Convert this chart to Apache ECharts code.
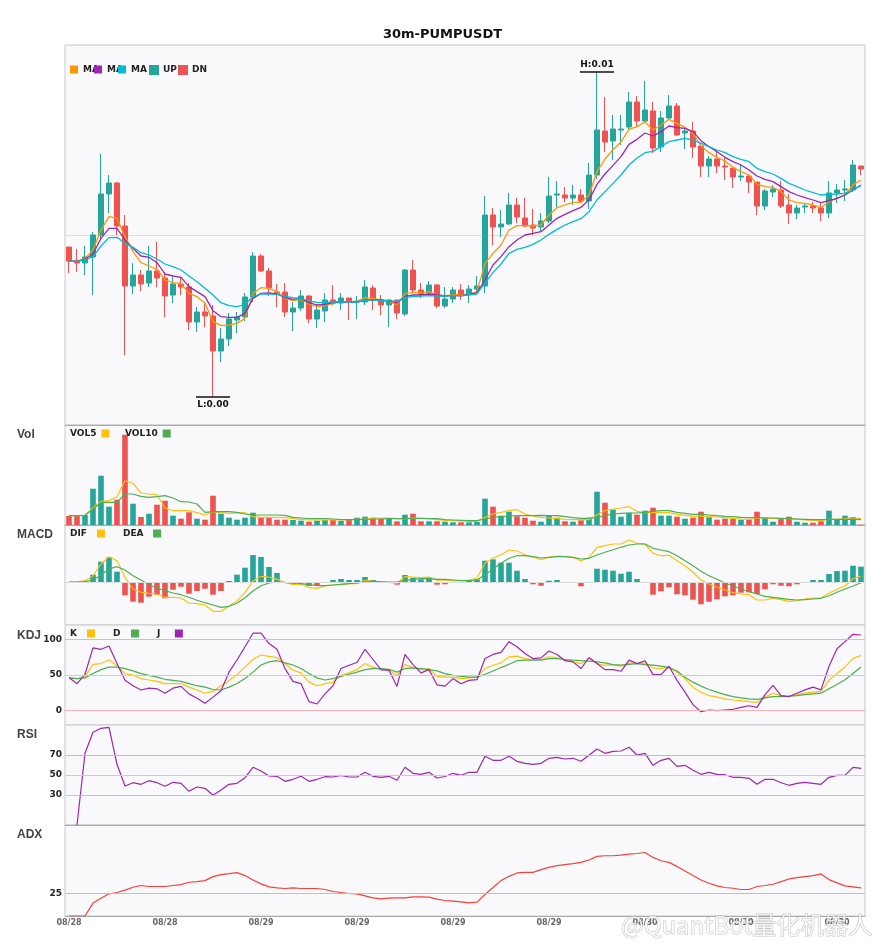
<!DOCTYPE html>
<html>
<head>
<meta charset="utf-8">
<title>30m-PUMPUSDT</title>
<script src="https://cdn.jsdelivr.net/npm/echarts@6/dist/echarts.min.js"></script>
<style>
html,body{margin:0;padding:0;background:#fff}
#main{width:885px;height:950px}
</style>
</head>
<body>
<div id="main"></div>
<script>
// 30分钟K线 PUMPUSDT，起始 08/28 14:00
var startMinutes = 14 * 60;
var times = [];
for (var i = 0; i < 100; i++) {
    var m = startMinutes + 30 * i;
    var day = 28 + Math.floor(m / 1440);
    var mm = m % 1440;
    var hh = Math.floor(mm / 60), mi = mm % 60;
    times.push('08/' + day + ' ' + (hh < 10 ? '0' : '') + hh + ':' + (mi < 10 ? '0' : '') + mi);
}

// 价格 OHLC
var open = [
    .005094,.005052,.005046,.005064,.005130,.005253,.005286,.005157,.004977,.005010,
    .004986,.005022,.005001,.004950,.004983,.004974,.004869,.004899,.004887,.004782,
    .004818,.004875,.004884,.004944,.005067,.005022,.004959,.004959,.004899,.004911,
    .004947,.004878,.004902,.004935,.004926,.004941,.004929,.004929,.004971,.004935,
    .004920,.004935,.004893,.005025,.004965,.004956,.004980,.004917,.004938,.004965,
    .004953,.004968,.004977,.005190,.005154,.005163,.005220,.005181,.005160,.005154,
    .005172,.005250,.005250,.005241,.005250,.005232,.005310,.005442,.005412,.005445,
    .005454,.005529,.005472,.005502,.005394,.005481,.005517,.005436,.005442,.005397,
    .005337,.005358,.005337,.005331,.005304,.005307,.005289,.005217,.005259,.005265,
    .005220,.005196,.005214,.005217,.005211,.005196,.005256,.005265,.005265,.005337
];
var high = [
    .005094,.005088,.005097,.005139,.005373,.005310,.005289,.005190,.005046,.005025,
    .005097,.005109,.005019,.005004,.005004,.004986,.004914,.004926,.004920,.004851,
    .004896,.004899,.004956,.005079,.005073,.005031,.004983,.004986,.004929,.004965,
    .004950,.004923,.004956,.004980,.004956,.004941,.004947,.004995,.004980,.004950,
    .004938,.004935,.005028,.005055,.004986,.004992,.004983,.004974,.004974,.004983,
    .004980,.005007,.005247,.005211,.005205,.005256,.005241,.005241,.005208,.005196,
    .005304,.005292,.005274,.005280,.005268,.005346,.005619,.005544,.005490,.005490,
    .005559,.005547,.005592,.005529,.005502,.005550,.005526,.005451,.005469,.005400,
    .005367,.005379,.005361,.005331,.005343,.005307,.005289,.005268,.005280,.005292,
    .005253,.005220,.005226,.005229,.005229,.005292,.005283,.005295,.005355,.005337
];
var low = [
    .005016,.005019,.005010,.004950,.005121,.005196,.005130,.004770,.004953,.004962,
    .004974,.004974,.004884,.004926,.004950,.004845,.004839,.004854,.004644,.004749,
    .004797,.004836,.004872,.004929,.005019,.004947,.004914,.004884,.004842,.004902,
    .004866,.004851,.004869,.004920,.004905,.004875,.004878,.004920,.004905,.004890,
    .004854,.004878,.004887,.004959,.004941,.004950,.004911,.004911,.004926,.004935,
    .004926,.004956,.004956,.005100,.005124,.005160,.005166,.005154,.005130,.005142,
    .005166,.005214,.005229,.005220,.005226,.005208,.005298,.005379,.005355,.005400,
    .005445,.005454,.005469,.005376,.005379,.005475,.005427,.005388,.005361,.005304,
    .005304,.005316,.005295,.005271,.005292,.005256,.005190,.005205,.005244,.005211,
    .005163,.005178,.005196,.005196,.005172,.005181,.005226,.005232,.005259,.005310
];
var close = [
    .005052,.005046,.005064,.005130,.005253,.005286,.005157,.004977,.005010,.004983,
    .005022,.005001,.004947,.004983,.004974,.004869,.004899,.004887,.004782,.004818,
    .004878,.004884,.004944,.005067,.005022,.004971,.004953,.004899,.004911,.004947,
    .004878,.004905,.004935,.004926,.004941,.004932,.004932,.004974,.004935,.004920,
    .004935,.004896,.005025,.004965,.004950,.004980,.004917,.004938,.004965,.004947,
    .004968,.004977,.005190,.005154,.005163,.005220,.005184,.005157,.005151,.005172,
    .005247,.005253,.005241,.005250,.005232,.005310,.005445,.005409,.005448,.005448,
    .005529,.005472,.005505,.005391,.005481,.005517,.005430,.005442,.005394,.005337,
    .005358,.005337,.005334,.005304,.005307,.005289,.005217,.005262,.005268,.005217,
    .005196,.005211,.005217,.005211,.005196,.005256,.005265,.005268,.005340,.005328
];

// 均线
var ma5 = [
    .005052,.005051,.005060,.005085,.005145,.005185,.005180,.005125,.005080,.005047,
    .005037,.005027,.004995,.004987,.004985,.004955,.004945,.004925,.004870,.004858,
    .004860,.004865,.004880,.004955,.004972,.004970,.004960,.004940,.004933,.004937,
    .004923,.004915,.004918,.004925,.004930,.004929,.004931,.004942,.004940,.004935,
    .004930,.004920,.004955,.004957,.004957,.004960,.004950,.004947,.004951,.004950,
    .004953,.004960,.005045,.005075,.005100,.005145,.005158,.005158,.005157,.005160,
    .005190,.005212,.005220,.005228,.005228,.005250,.005320,.005358,.005386,.005409,
    .005447,.005455,.005469,.005445,.005460,.005477,.005465,.005453,.005435,.005397,
    .005377,.005363,.005352,.005333,.005320,.005310,.005282,.005275,.005273,.005260,
    .005235,.005227,.005225,.005220,.005212,.005230,.005240,.005250,.005280,.005295
];
var ma10 = [
    .005052,.005051,.005058,.005073,.005120,.005150,.005150,.005115,.005090,.005067,
    .005063,.005047,.005013,.005007,.005003,.004975,.004960,.004945,.004903,.004885,
    .004883,.004883,.004895,.004940,.004955,.004956,.004953,.004943,.004937,.004940,
    .004927,.004920,.004922,.004927,.004929,.004929,.004929,.004935,.004935,.004935,
    .004932,.004927,.004945,.004950,.004950,.004953,.004950,.004947,.004949,.004948,
    .004952,.004957,.004995,.005040,.005065,.005095,.005115,.005130,.005135,.005140,
    .005160,.005180,.005192,.005203,.005213,.005235,.005282,.005313,.005339,.005365,
    .005402,.005417,.005436,.005427,.005440,.005457,.005452,.005450,.005440,.005413,
    .005395,.005380,.005363,.005350,.005340,.005325,.005307,.005297,.005290,.005275,
    .005260,.005250,.005242,.005235,.005227,.005233,.005240,.005250,.005265,.005280
];
var ma20 = [
    .005052,.005051,.005055,.005065,.005097,.005122,.005123,.005105,.005093,.005077,
    .005070,.005058,.005043,.005035,.005025,.005007,.004990,.004970,.004950,.004927,
    .004918,.004915,.004922,.004945,.004953,.004953,.004952,.004946,.004942,.004940,
    .004932,.004928,.004927,.004929,.004929,.004929,.004929,.004935,.004935,.004933,
    .004933,.004930,.004943,.004945,.004947,.004948,.004947,.004947,.004948,.004948,
    .004950,.004953,.004987,.005017,.005043,.005075,.005087,.005093,.005102,.005115,
    .005132,.005147,.005160,.005170,.005179,.005200,.005235,.005260,.005285,.005310,
    .005340,.005361,.005377,.005381,.005396,.005410,.005415,.005420,.005415,.005405,
    .005395,.005385,.005377,.005365,.005357,.005350,.005330,.005320,.005313,.005300,
    .005285,.005275,.005265,.005257,.005250,.005252,.005253,.005255,.005265,.005278
];

// 成交量
var vol = [
    9,9,10,36.3,49.3,18.3,25.3,90.3,21.3,8,
    11.3,20.3,24.3,9.3,6.3,12.7,6.3,5.3,29.3,11.3,
    7.3,5.3,7.3,12.3,7,7.7,5.3,5.3,5,4.3,
    3.3,4.3,5,5,4,6,7.3,8.3,7.3,6.3,
    7,3.7,10.3,11.3,3.7,3.7,3.7,3.3,2.7,2.7,
    2.7,3,26.3,18.3,9.3,13.3,8.7,7.3,4.3,3.3,
    9.7,7.3,3.7,3.3,4.7,7.3,33.3,22.3,15.3,8.3,
    12.3,10.3,14.3,17.3,9.3,9.3,8.3,6.3,7.3,13.3,
    7.7,5.3,6.3,6.3,5.3,5.3,13.3,7.3,3.3,6.7,
    8.3,3.3,2.3,2.3,3.7,14.3,5.3,9.3,8,0.3
];
var vol5 = [
    9.3,9.3,9.7,17,23.7,24.3,28.3,44.3,41.7,32,
    31,30.3,17,14.3,14.3,14.3,12.3,10,13.3,12.3,
    11.7,12,12.3,8.3,7.7,7.7,7.7,7.3,6.3,5.7,
    5,5,5,5,5,5.3,5.7,6,6.7,7,
    7,6.3,6.3,7,6.7,6.3,5.3,4.7,4.3,4,
    3.7,3.7,7.7,11,12.7,14.3,15.3,11,9,7.7,
    7,6.3,5.7,5.3,5.3,5.3,10.3,14.3,16,17,
    18.3,13.7,12.3,12.3,12.3,12.3,10.7,9.7,8.7,9,
    8.7,8,7.3,6.7,6,5.7,7,7,6.7,6.3,
    6.3,5.7,5,4.7,4.7,5.7,5.7,6.3,7,6.7
];
var vol10 = [
    9.3,9.3,9.7,16,22.7,22.7,22.7,31,31,28.7,
    27.7,28.3,29.3,27,23.3,23,21,12.7,13.3,13.3,
    13.3,12.7,11,10,10,10,10,9.7,7.7,7,
    6.3,6.3,6.3,6,5.3,5.3,5.3,5.7,6,6,
    6.3,6.3,6.3,6.7,6.7,6.3,6.3,5.3,5,4.7,
    4.3,4.3,6,7.7,8.3,9,9.3,9.3,9.3,9.7,
    9.3,9.3,8.3,7.3,6.7,6.7,7.7,9.3,11,11.7,
    12,12,12.7,13.7,14.3,14.3,12.7,11.7,10.7,10.7,
    10,9.3,8.7,8.3,7.7,7.3,7.3,7,7,6.7,
    6.3,6,5.7,5.3,5.3,5.7,5.7,5.7,5.7,5.3
];

// MACD
var macdHist = [
    0,0,0.3,7.3,20.3,24.7,10.3,-13.3,-19.7,-20.7,
    -14.7,-12.7,-16.3,-7.7,-4.7,-11.7,-9,-6.7,-12.7,-9,
    1,7.3,14.3,27,25,15,9,0,-2.3,0,
    -4,-4,0,2,3,2,2,5,2,0,
    0,-2.7,7,4.3,2.7,4.3,-2.7,-2.3,0,-1,
    1.3,2.7,21.3,22.7,19.3,19.3,11.3,3,-2.3,-3.7,
    1.3,2,0,-0.7,-4.3,0,13.3,12.3,11.3,8.3,
    10.3,3,0,-12.7,-9.3,-5.3,-12.3,-13.3,-17.7,-22.3,
    -19.7,-17.3,-14.3,-13.3,-10.7,-10.3,-12,-7.3,-2.3,-3.7,
    -4.3,-2.3,0,2,2,8,11,11.3,16.3,15.3
];
var dif = [
    0,0,1.3,6,18,25.3,21.3,4.7,-7,-10.3,
    -11.3,-12,-15.3,-15.3,-16,-21,-21.7,-23,-29.3,-29.3,
    -24,-19,-10.7,1,5.7,5,2.7,-0.7,-2.3,-2.3,
    -5.7,-6.3,-4,-3,-2.3,-1.7,-1.7,1.7,0.7,0,
    -0.3,-1.3,5.3,5,4.3,5,1.7,2,1.3,1.3,
    2,4,18.7,24,27.3,32,31,27.3,24.7,22.3,
    24.7,26,25.3,24.7,21,24.7,34.7,36.3,38,38,
    42,38.7,38,28.7,26.3,26.7,21.3,16.3,9.7,2,
    -2,-5.3,-8,-10.7,-12,-12.7,-18,-18,-16.3,-17.7,
    -19.3,-18.7,-17,-16,-16,-11.3,-7.3,-4,3.3,6
];
var dea = [
    0,0,0.3,2,7,13,15.3,12,6.3,2,
    -2.7,-6,-8.7,-11,-12.7,-15.3,-18.3,-20.7,-23,-25.3,
    -24.3,-21.3,-15.7,-9,-3.7,-1,0,-0.3,-1,-1.7,
    -2.7,-3.7,-3.7,-3,-2.3,-1.7,-1,0.3,0.7,0.3,
    0,0,1.7,2.7,3.3,3.7,2.7,2.7,2,1.3,
    1.3,2,7.3,13,18.7,23.7,26.3,26.3,25.3,24,
    24.7,25.3,25.3,24.7,23,23.7,27,29.7,32.3,34.7,
    37,38,38,33.7,32,30.3,26.3,21.3,16.3,10.7,
    6.3,2.7,-1,-4,-7,-9.7,-12,-14.3,-15.3,-16.3,
    -17.3,-18,-17.7,-17,-16.3,-13.7,-10.3,-7,-4,-0.7
];

// KDJ
var kLine = [
    46,45,47,65,66,71,63,52,50,45,
    43,41,38,38,38,33,29,24.5,27,35,
    42,50.5,61,72,78,76,74.5,66,56.6,53,
    40,35,38,40,49.5,53,57.5,66,61,57.5,
    56.6,49.5,64.6,60,57.5,59,48,47,47,45,
    46,47,59,63.7,67,75.5,76.4,73,71.7,71.7,
    75.5,74.5,70.8,68.4,66,73,66,63.7,63.7,62.3,
    67,66,67,60,59,61.3,54,45,33,26,
    21,19,16.5,15,14,12.7,11.8,19,24.5,20.8,
    19.8,22.6,24.5,26,27,42.5,52,61.3,73,77.4
];
var dLine = [
    46,45,46,52,57.5,61,61,59,55.7,52,
    49.5,47,44,42.5,41,38,35,33,29.7,29,
    33,38,45,54,64,68.4,70,67,64,59,
    52,46,43,45,48,51,54,57.5,59,59,
    58,54,59,60,59,57.5,55.7,52,49.5,48,
    47,47,51,55.7,60.4,65,70,70.8,70.8,70.8,
    73,73,71.7,70.8,70,69.3,68.4,67,64.6,63.7,
    65,66,64.6,63.7,62.3,60.4,55.7,47,40,34.4,
    29.7,26,22.6,19.8,18,16.5,16,18,19.8,19.8,
    20.3,21.2,22.6,23.6,24.5,30.7,36.8,43.4,52,61.3
];
var jLine = [
    46,38,51,88,86,90.6,66,42.5,35,29,
    31.6,30.7,24.5,31.6,34,23.6,17.5,10.4,19,28,
    54,71,89.6,108.5,108.5,94,86,59,41,38,
    12.7,9.4,23.6,35,59,63.7,67.5,86,71.7,57.5,
    56.6,34,78.8,64.6,53,57.5,36.3,34.4,45,37.7,
    42.5,43.4,73,78.8,81.6,96.7,89.6,80.2,73,74,
    83.5,78.8,70,68.4,59,74.5,66,57.5,57.5,55.2,
    70.8,66,70,50.5,50.5,62.3,42.5,26,8.5,-1.4,
    1,0,1,2,4.7,7,4.7,22.6,35.4,21.2,
    19.8,24.5,29.2,33,29.2,62.3,86.8,96.7,107,106
];

// RSI
var rsi = [
    '-',0,71.7,92.7,96.7,97.7,60.7,39,42.3,40.7,
    44.3,42.3,38.7,42.7,41.7,33.7,38,36.7,29.7,35,
    40.7,41.7,47.3,57.7,54,49,48.7,43.7,45.7,48.7,
    43.7,45.7,48.3,48,49.7,48,48,52.7,48.7,47.7,
    48.7,44.7,57.7,51.7,50.7,52.7,47,48.5,51.7,49.7,
    52.7,52.7,68.7,64.7,64.7,68.7,63.7,61.7,60.7,61.7,
    66.7,67.7,66,66.7,63.7,69.7,76,71.7,73.7,74,
    77.7,70,71.7,59.7,64.7,66.7,58.7,59.7,54.7,50.7,
    52.7,50.7,50.3,47.7,47.7,46.7,40.7,45.7,45.7,42.3,
    39.7,41.7,42.7,41.7,40.7,47.7,49.7,49.7,57.7,56.7
];

// ADX
var adx = [
    0,0,0,14.2,19.6,24.4,25.8,28.4,31.6,33.5,
    32.4,32.4,32.4,33.5,34.5,37.1,37.8,38.9,43.3,45.5,
    46.5,47.6,44.4,39.6,35.3,32,30.9,30.2,30.9,30.2,
    30.2,30.2,29.1,26.9,25.8,24.7,24.4,22.2,20,18.9,
    19.6,20,20,21.1,21.1,20.7,18.5,17,16.4,15.6,
    14.5,15.3,23.6,31.3,38.9,43.6,47.3,48,48,50.9,
    53.5,55.3,56.4,57.5,58.9,61.5,65.5,66.2,66.2,66.9,
    68,68.7,69.8,64.4,60.7,58.9,54.5,49.5,44.4,39.6,
    36,33.1,31.3,30.5,29.1,29.1,32.4,33.5,34.9,37.8,
    40.7,42.2,43.3,44.4,46.2,40,36.4,33.1,32,30.9
];

var UP = '#26a69a', DN = '#ef5350';
var C_MA5 = '#FF9800', C_MA10 = '#9C27B0', C_MA20 = '#00BCD4';
var C_Y = '#FFC107', C_G = '#4CAF50', C_P = '#9C27B0';

// 阳线 / 阴线 拆成两个系列
var upData = [], dnData = [], volData = [], histData = [];
for (var i = 0; i < times.length; i++) {
    var item = [open[i], close[i], low[i], high[i]];
    var isUp = close[i] >= open[i];
    upData.push(isUp ? item : '-');
    dnData.push(isUp ? '-' : item);
    volData.push({ value: vol[i], itemStyle: { color: isUp ? UP : DN } });
    histData.push({ value: macdHist[i], itemStyle: { color: macdHist[i] >= 0 ? UP : DN } });
}

// 最高最低点
var hiVal = Math.max.apply(null, high), hiIdx = high.indexOf(hiVal);
var loVal = Math.min.apply(null, low), loIdx = low.indexOf(loVal);

var tops = [45, 425, 525, 625, 725, 825];
var heights = [380, 100, 100, 100, 100, 91];
var grids = tops.map(function (t, k) {
    return {
        left: 65, right: 20, top: t, height: heights[k],
        show: true, backgroundColor: '#f9f9fb', borderColor: '#c8c8cc', borderWidth: 1
    };
});

var xAxes = tops.map(function (t, k) {
    return {
        type: 'category', gridIndex: k, data: times, boundaryGap: true,
        axisLine: { show: true, lineStyle: { color: '#aaa' } },
        axisTick: { show: false },
        splitLine: { show: false },
        axisLabel: {
            show: k === 5, interval: 11, fontSize: 8, fontWeight: 'bold', color: '#666', margin: 3,
            formatter: function (v) { return v.slice(0, 5); }
        }
    };
});

function hiddenY(k, min, max) {
    return {
        type: 'value', gridIndex: k, min: min, max: max,
        axisLabel: { show: false }, axisLine: { show: false },
        axisTick: { show: false }, splitLine: { show: false }
    };
}
function labeledY(k, min, max, interval, shown) {
    return {
        type: 'value', gridIndex: k, min: min, max: max, interval: interval,
        axisLine: { show: false }, axisTick: { show: false }, splitLine: { show: false },
        axisLabel: {
            fontSize: 9, fontWeight: 'bold', color: '#222', margin: 3,
            formatter: function (v) { return shown.indexOf(v) >= 0 ? String(v) : ''; }
        }
    };
}

var yAxes = [
    {
        type: 'value', gridIndex: 0, min: 0.00456, max: 0.0057, interval: 0.00057,
        axisLabel: { show: false }, axisLine: { show: false }, axisTick: { show: false },
        splitLine: { show: true, lineStyle: { color: '#ddd' } }
    },
    hiddenY(1, 0, 100),
    hiddenY(2, -43, 57),
    labeledY(3, -20, 120, 10, [0, 50, 100]),
    labeledY(4, 0, 100, 10, [30, 50, 70]),
    labeledY(5, 0, 100, 5, [25])
];

function hLines(list) {
    return {
        silent: true, symbol: ['none', 'none'], label: { show: false }, animation: false,
        data: list.map(function (d) {
            return { yAxis: d[0], lineStyle: { color: d[1], width: 1, type: 'solid' } };
        })
    };
}

function line(name, data, color, x, width) {
    return {
        name: name, type: 'line', xAxisIndex: x, yAxisIndex: x, data: data,
        symbol: 'none', smooth: false,
        lineStyle: { color: color, width: width || 1.2 }, itemStyle: { color: color }
    };
}

// 每个图例单独摆放；主图均线图例只显示 "MA"
var legendZ = 10;
function legendItem(name, left, top, align, padRight, label) {
    legendZ += 1;
    return {
        data: [name], left: left, top: top, align: align, orient: 'horizontal', z: legendZ,
        icon: 'rect', itemWidth: 8, itemHeight: 8, padding: 0, itemGap: 0, selectedMode: false,
        formatter: label ? function () { return label; } : '{name}',
        textStyle: { fontSize: 9, fontWeight: 'bold', color: '#222', padding: [0, padRight || 0, 0, 0] }
    };
}

var legends = [
    legendItem('MA5', 70, 65, 'left', 0, 'MA'),
    legendItem('MA10', 94, 65, 'left', 0, 'MA'),
    legendItem('MA20', 118, 65, 'left', 0, 'MA'),
    legendItem('UP', 149, 65, 'left'),
    legendItem('DN', 178, 65, 'left'),
    legendItem('VOL5', 70, 429, 'right', 0),
    legendItem('VOL10', 125, 429, 'right', 0),
    legendItem('DIF', 70, 529, 'right', 5),
    legendItem('DEA', 123, 529, 'right', 4.5),
    legendItem('K', 70, 629, 'right', 5),
    legendItem('D', 113, 629, 'right', 5.5),
    legendItem('J', 157, 629, 'right', 9.5)
];

var panelNames = [['Vol', 435], ['MACD', 535], ['KDJ', 636], ['RSI', 735], ['ADX', 835]];
var graphics = panelNames.map(function (p) {
    return {
        type: 'text', x: 17, y: p[1],
        style: { text: p[0], fontSize: 12, fontWeight: 'bold', fill: '#444', verticalAlign: 'middle' }
    };
});
graphics.push({
    type: 'text', x: 621, y: 925, z: 100,
    style: {
        text: '@QuantBot量化机器人', fontSize: 24, fontFamily: 'Noto Sans CJK SC',
        fill: 'rgba(255,255,255,0.75)', stroke: 'rgba(140,140,140,0.5)', lineWidth: 1,
        verticalAlign: 'middle'
    }
});

var myChart = echarts.init(document.getElementById('main'));

var option = {
    animation: false,
    backgroundColor: '#fff',
    textStyle: { fontFamily: 'DejaVu Sans' },
    title: {
        text: '30m-PUMPUSDT', left: 'center', top: 28, padding: 0,
        textStyle: { fontSize: 13, fontWeight: 'bold', color: '#111' }
    },
    legend: legends,
    grid: grids,
    xAxis: xAxes,
    yAxis: yAxes,
    graphic: graphics,
    series: [
        {
            name: 'UP', type: 'candlestick', xAxisIndex: 0, yAxisIndex: 0, data: upData, barWidth: '70%',
            itemStyle: { color: UP, color0: UP, borderColor: UP, borderColor0: UP, borderWidth: 1 },
            markPoint: {
                symbol: 'rect', symbolSize: [34, 1.5], animation: false,
                itemStyle: { color: '#111' },
                label: { show: true, fontSize: 9, fontWeight: 'bold', color: '#111' },
                data: [
                    { coord: [hiIdx, hiVal], label: { position: 'top', distance: 2, formatter: 'H:' + hiVal.toFixed(2) } },
                    { coord: [loIdx, loVal], label: { position: 'bottom', distance: 2, formatter: 'L:' + loVal.toFixed(2) } }
                ]
            }
        },
        {
            name: 'DN', type: 'candlestick', xAxisIndex: 0, yAxisIndex: 0, data: dnData, barWidth: '70%',
            itemStyle: { color: DN, color0: DN, borderColor: DN, borderColor0: DN, borderWidth: 1 }
        },
        line('MA5', ma5, C_MA5, 0, 1.3),
        line('MA10', ma10, C_MA10, 0, 1.3),
        line('MA20', ma20, C_MA20, 0, 1.3),

        { name: 'Vol', type: 'bar', xAxisIndex: 1, yAxisIndex: 1, data: volData, barWidth: '70%' },
        line('VOL5', vol5, C_Y, 1),
        line('VOL10', vol10, C_G, 1),

        {
            name: 'MACD', type: 'bar', xAxisIndex: 2, yAxisIndex: 2, data: histData, barWidth: '70%',
            markLine: hLines([[0, '#ddd']])
        },
        line('DIF', dif, C_Y, 2),
        line('DEA', dea, C_G, 2),

        Object.assign(line('K', kLine, C_Y, 3), {
            markLine: hLines([[100, '#9fd6d0'], [50, '#cccccc'], [0, '#f6b2b2']])
        }),
        line('D', dLine, C_G, 3),
        line('J', jLine, C_P, 3),

        Object.assign(line('RSI', rsi, C_P, 4), {
            markLine: hLines([[70, '#8fd3cc'], [50, '#cccccc'], [30, '#f6b2b2']])
        }),

        Object.assign(line('ADX', adx, '#F44336', 5), {
            markLine: hLines([[25, '#d9aee2']])
        })
    ]
};

myChart.setOption(option);
</script>
</body>
</html>
